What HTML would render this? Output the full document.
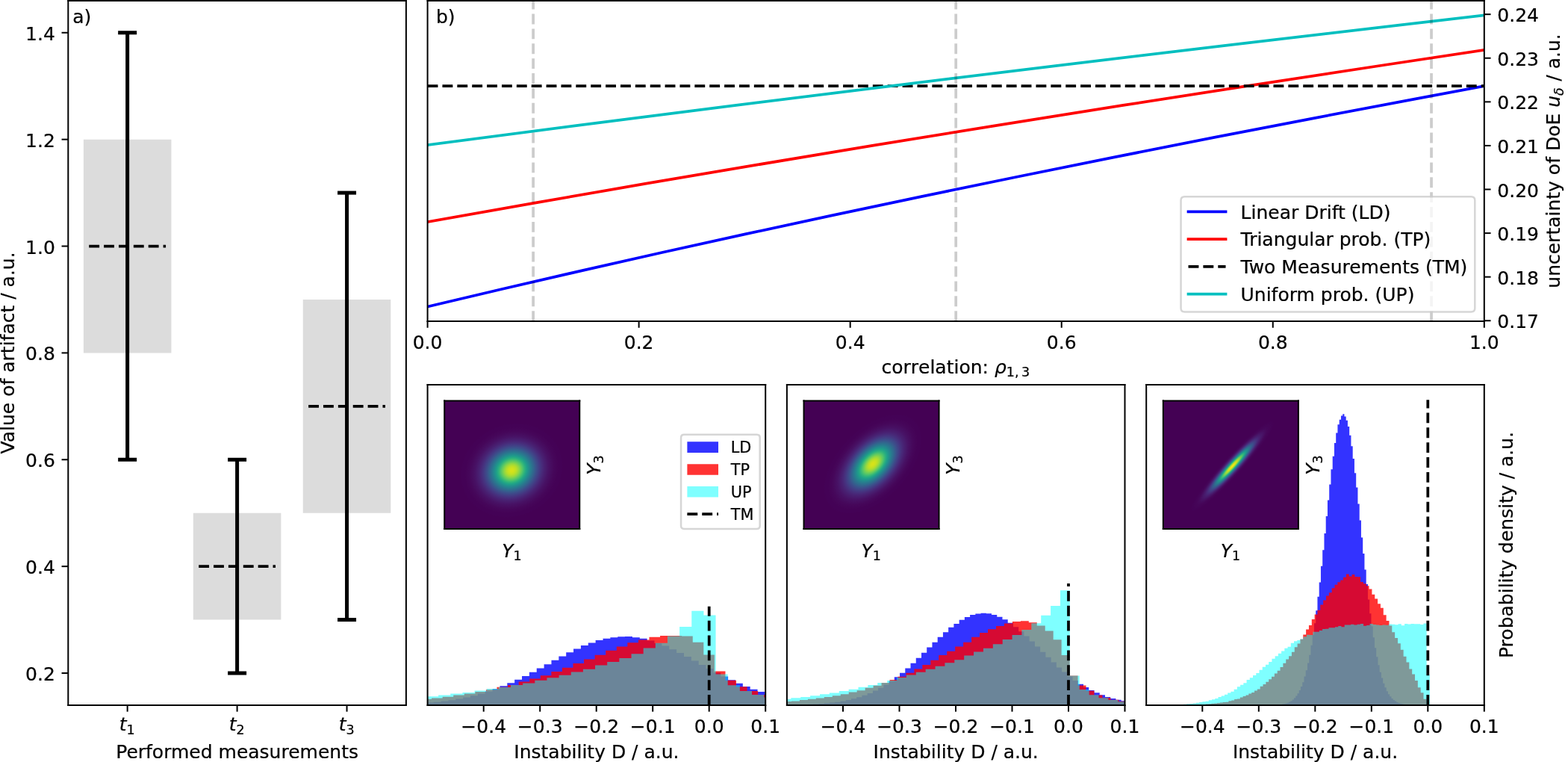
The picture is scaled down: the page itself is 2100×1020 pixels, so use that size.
<!DOCTYPE html>
<html lang="en">
<head>
<meta charset="utf-8">
<title>Drift models: DoE uncertainty versus correlation</title>
<style>html,body{margin:0;padding:0;background:#fff}body{width:2100px;height:1020px;overflow:hidden}svg{display:block}svg text{font-family:"DejaVu Sans","Liberation Sans",sans-serif;stroke:#000;stroke-width:0.09px;stroke-linejoin:round}</style>
</head>
<body>
<svg width="2100" height="1020" viewBox="0 0 840 408">
<defs>
<style type="text/css">*{stroke-linejoin: round; stroke-linecap: butt}</style>
</defs>
<defs><radialGradient id="hg0" gradientUnits="userSpaceOnUse" cx="0" cy="0" r="4.000" fx="0" fy="0" gradientTransform="matrix(8.080 -0.744 0.000 -7.402 274.120 251.840)"><stop offset="0.000" stop-color="#d8e219"/><stop offset="0.025" stop-color="#d5e21a"/><stop offset="0.050" stop-color="#cae11f"/><stop offset="0.075" stop-color="#bddf26"/><stop offset="0.100" stop-color="#a8db34"/><stop offset="0.125" stop-color="#8ed645"/><stop offset="0.150" stop-color="#70cf57"/><stop offset="0.175" stop-color="#56c667"/><stop offset="0.200" stop-color="#3bbb75"/><stop offset="0.225" stop-color="#28ae80"/><stop offset="0.250" stop-color="#1fa188"/><stop offset="0.275" stop-color="#20938c"/><stop offset="0.300" stop-color="#24868e"/><stop offset="0.325" stop-color="#29798e"/><stop offset="0.350" stop-color="#2e6d8e"/><stop offset="0.375" stop-color="#34618d"/><stop offset="0.400" stop-color="#3a548c"/><stop offset="0.425" stop-color="#3e4989"/><stop offset="0.450" stop-color="#423f85"/><stop offset="0.475" stop-color="#453581"/><stop offset="0.500" stop-color="#472d7b"/><stop offset="0.525" stop-color="#482576"/><stop offset="0.550" stop-color="#481f70"/><stop offset="0.575" stop-color="#481a6c"/><stop offset="0.600" stop-color="#481467"/><stop offset="0.625" stop-color="#471063"/><stop offset="0.650" stop-color="#470d60"/><stop offset="0.675" stop-color="#460a5d"/><stop offset="0.700" stop-color="#46075a"/><stop offset="0.725" stop-color="#450559"/><stop offset="0.750" stop-color="#450457"/><stop offset="0.775" stop-color="#440256"/><stop offset="0.800" stop-color="#440256"/><stop offset="0.825" stop-color="#440256"/><stop offset="0.850" stop-color="#440154"/><stop offset="0.875" stop-color="#440154"/><stop offset="0.900" stop-color="#440154"/><stop offset="0.925" stop-color="#440154"/><stop offset="0.950" stop-color="#440154"/><stop offset="0.975" stop-color="#440154"/><stop offset="1.000" stop-color="#440154"/></radialGradient><radialGradient id="hg1" gradientUnits="userSpaceOnUse" cx="0" cy="0" r="4.000" fx="0" fy="0" gradientTransform="matrix(7.720 -3.920 0.000 -6.789 467.600 248.400)"><stop offset="0.000" stop-color="#d8e219"/><stop offset="0.025" stop-color="#d5e21a"/><stop offset="0.050" stop-color="#cae11f"/><stop offset="0.075" stop-color="#bddf26"/><stop offset="0.100" stop-color="#a8db34"/><stop offset="0.125" stop-color="#8ed645"/><stop offset="0.150" stop-color="#70cf57"/><stop offset="0.175" stop-color="#56c667"/><stop offset="0.200" stop-color="#3bbb75"/><stop offset="0.225" stop-color="#28ae80"/><stop offset="0.250" stop-color="#1fa188"/><stop offset="0.275" stop-color="#20938c"/><stop offset="0.300" stop-color="#24868e"/><stop offset="0.325" stop-color="#29798e"/><stop offset="0.350" stop-color="#2e6d8e"/><stop offset="0.375" stop-color="#34618d"/><stop offset="0.400" stop-color="#3a548c"/><stop offset="0.425" stop-color="#3e4989"/><stop offset="0.450" stop-color="#423f85"/><stop offset="0.475" stop-color="#453581"/><stop offset="0.500" stop-color="#472d7b"/><stop offset="0.525" stop-color="#482576"/><stop offset="0.550" stop-color="#481f70"/><stop offset="0.575" stop-color="#481a6c"/><stop offset="0.600" stop-color="#481467"/><stop offset="0.625" stop-color="#471063"/><stop offset="0.650" stop-color="#470d60"/><stop offset="0.675" stop-color="#460a5d"/><stop offset="0.700" stop-color="#46075a"/><stop offset="0.725" stop-color="#450559"/><stop offset="0.750" stop-color="#450457"/><stop offset="0.775" stop-color="#440256"/><stop offset="0.800" stop-color="#440256"/><stop offset="0.825" stop-color="#440256"/><stop offset="0.850" stop-color="#440154"/><stop offset="0.875" stop-color="#440154"/><stop offset="0.900" stop-color="#440154"/><stop offset="0.925" stop-color="#440154"/><stop offset="0.950" stop-color="#440154"/><stop offset="0.975" stop-color="#440154"/><stop offset="1.000" stop-color="#440154"/></radialGradient><radialGradient id="hg2" gradientUnits="userSpaceOnUse" cx="0" cy="0" r="4.000" fx="0" fy="0" gradientTransform="matrix(6.520 -6.785 0.000 -2.157 660.240 249.560)"><stop offset="0.000" stop-color="#f1e51d"/><stop offset="0.025" stop-color="#efe51c"/><stop offset="0.050" stop-color="#e5e419"/><stop offset="0.075" stop-color="#d5e21a"/><stop offset="0.100" stop-color="#c0df25"/><stop offset="0.125" stop-color="#a5db36"/><stop offset="0.150" stop-color="#86d549"/><stop offset="0.175" stop-color="#67cc5c"/><stop offset="0.200" stop-color="#4ac16d"/><stop offset="0.225" stop-color="#31b57b"/><stop offset="0.250" stop-color="#22a785"/><stop offset="0.275" stop-color="#1f988b"/><stop offset="0.300" stop-color="#228b8d"/><stop offset="0.325" stop-color="#287d8e"/><stop offset="0.350" stop-color="#2d718e"/><stop offset="0.375" stop-color="#32648e"/><stop offset="0.400" stop-color="#38588c"/><stop offset="0.425" stop-color="#3d4d8a"/><stop offset="0.450" stop-color="#424186"/><stop offset="0.475" stop-color="#453882"/><stop offset="0.500" stop-color="#472e7c"/><stop offset="0.525" stop-color="#482677"/><stop offset="0.550" stop-color="#482071"/><stop offset="0.575" stop-color="#481a6c"/><stop offset="0.600" stop-color="#481668"/><stop offset="0.625" stop-color="#471164"/><stop offset="0.650" stop-color="#470d60"/><stop offset="0.675" stop-color="#460a5d"/><stop offset="0.700" stop-color="#46075a"/><stop offset="0.725" stop-color="#450559"/><stop offset="0.750" stop-color="#450457"/><stop offset="0.775" stop-color="#450457"/><stop offset="0.800" stop-color="#440256"/><stop offset="0.825" stop-color="#440256"/><stop offset="0.850" stop-color="#440154"/><stop offset="0.875" stop-color="#440154"/><stop offset="0.900" stop-color="#440154"/><stop offset="0.925" stop-color="#440154"/><stop offset="0.950" stop-color="#440154"/><stop offset="0.975" stop-color="#440154"/><stop offset="1.000" stop-color="#440154"/></radialGradient></defs><g id="figure_1">
<g id="patch_1">
<path d="M 0 408 L 840 408 L 840 0 L 0 0 z
" style="fill: #ffffff"/>
</g>
<g id="axes_1">
<g id="patch_2">
<path d="M 36.52 377.56 L 217.56 377.56 L 217.56 0.36 L 36.52 0.36 z
" style="fill: #ffffff"/>
</g>
<g id="patch_3">
<path d="M 44.749 188.96 L 91.772 188.96 L 91.772 74.656 L 44.749 74.656 z
" clip-path="url(#p8b01ac9c0a)" style="fill: #dcdcdc"/>
</g>
<g id="patch_4">
<path d="M 103.528 331.838 L 150.551 331.838 L 150.551 274.687 L 103.528 274.687 z
" clip-path="url(#p8b01ac9c0a)" style="fill: #dcdcdc"/>
</g>
<g id="patch_5">
<path d="M 162.307 274.687 L 209.330 274.687 L 209.330 160.384 L 162.307 160.384 z
" clip-path="url(#p8b01ac9c0a)" style="fill: #dcdcdc"/>
</g>
<g id="matplotlib.axis_1">
<g id="xtick_1">
<g id="line2d_1">
<defs>
<path id="m7aefe9833c" d="M 0 0 L 0 3.5 
" style="stroke: #000000; stroke-width: 0.8"/>
</defs>
<g>
<use href="#m7aefe9833c" x="68.260" y="377.56" style="stroke: #000000; stroke-width: 0.8"/>
</g>
</g>
<g id="text_1">
<g transform="translate(63.910 392.158)">
<text style="white-space: pre"><tspan x="0.000" y="-0.784" style="font-style: oblique; font-size: 10px">t</tspan><tspan x="3.921" y="0.856" style="font-size: 7px">1</tspan></text>
</g>
</g>
</g>
<g id="xtick_2">
<g id="line2d_2">
<g>
<use href="#m7aefe9833c" x="127.04" y="377.56" style="stroke: #000000; stroke-width: 0.8"/>
</g>
</g>
<g id="text_2">
<g transform="translate(122.69 392.158)">
<text style="white-space: pre"><tspan x="0.000" y="-0.784" style="font-style: oblique; font-size: 10px">t</tspan><tspan x="3.921" y="0.856" style="font-size: 7px">2</tspan></text>
</g>
</g>
</g>
<g id="xtick_3">
<g id="line2d_3">
<g>
<use href="#m7aefe9833c" x="185.819" y="377.56" style="stroke: #000000; stroke-width: 0.8"/>
</g>
</g>
<g id="text_3">
<g transform="translate(181.469 392.158)">
<text style="white-space: pre"><tspan x="0.000" y="-0.784" style="font-style: oblique; font-size: 10px">t</tspan><tspan x="3.921" y="0.856" style="font-size: 7px">3</tspan></text>
</g>
</g>
</g>
<g id="text_4">
<text style="font-size: 10px; text-anchor: middle" x="127.04" y="406.037" transform="rotate(-0 127.04 405.836)">Performed measurements</text>
</g>
</g>
<g id="matplotlib.axis_2">
<g id="ytick_1">
<g id="line2d_4">
<defs>
<path id="ma451ee181b" d="M 0 0 L -3.5 0 
" style="stroke: #000000; stroke-width: 0.8"/>
</defs>
<g>
<use href="#ma451ee181b" x="36.52" y="360.414" style="stroke: #000000; stroke-width: 0.8"/>
</g>
</g>
<g id="text_5">
<text style="font-size: 10px; text-anchor: end" x="29.52" y="364.414" transform="rotate(-0 29.52 364.213)">0.2</text>
</g>
</g>
<g id="ytick_2">
<g id="line2d_5">
<g>
<use href="#ma451ee181b" x="36.52" y="303.263" style="stroke: #000000; stroke-width: 0.8"/>
</g>
</g>
<g id="text_6">
<text style="font-size: 10px; text-anchor: end" x="29.52" y="307.262" transform="rotate(-0 29.52 307.062)">0.4</text>
</g>
</g>
<g id="ytick_3">
<g id="line2d_6">
<g>
<use href="#ma451ee181b" x="36.52" y="246.111" style="stroke: #000000; stroke-width: 0.8"/>
</g>
</g>
<g id="text_7">
<text style="font-size: 10px; text-anchor: end" x="29.52" y="250.111" transform="rotate(-0 29.52 249.910)">0.6</text>
</g>
</g>
<g id="ytick_4">
<g id="line2d_7">
<g>
<use href="#ma451ee181b" x="36.52" y="188.96" style="stroke: #000000; stroke-width: 0.8"/>
</g>
</g>
<g id="text_8">
<text style="font-size: 10px; text-anchor: end" x="29.52" y="192.959" transform="rotate(-0 29.52 192.759)">0.8</text>
</g>
</g>
<g id="ytick_5">
<g id="line2d_8">
<g>
<use href="#ma451ee181b" x="36.52" y="131.808" style="stroke: #000000; stroke-width: 0.8"/>
</g>
</g>
<g id="text_9">
<text style="font-size: 10px; text-anchor: end" x="29.52" y="135.808" transform="rotate(-0 29.52 135.607)">1.0</text>
</g>
</g>
<g id="ytick_6">
<g id="line2d_9">
<g>
<use href="#ma451ee181b" x="36.52" y="74.656" style="stroke: #000000; stroke-width: 0.8"/>
</g>
</g>
<g id="text_10">
<text style="font-size: 10px; text-anchor: end" x="29.52" y="78.656" transform="rotate(-0 29.52 78.456)">1.2</text>
</g>
</g>
<g id="ytick_7">
<g id="line2d_10">
<g>
<use href="#ma451ee181b" x="36.52" y="17.505" style="stroke: #000000; stroke-width: 0.8"/>
</g>
</g>
<g id="text_11">
<text style="font-size: 10px; text-anchor: end" x="29.52" y="21.505" transform="rotate(-0 29.52 21.304)">1.4</text>
</g>
</g>
<g id="text_12">
<text style="font-size: 10px; text-anchor: middle" x="7.537" y="189.160" transform="rotate(-90 7.537 188.96)">Value of artifact / a.u.</text>
</g>
</g>
<g id="line2d_11">
<path d="M 47.688 131.808 L 88.833 131.808 
" clip-path="url(#p8b01ac9c0a)" style="fill: none; stroke-dasharray: 5.55,2.4; stroke-dashoffset: 0; stroke: #000000; stroke-width: 1.5"/>
</g>
<g id="line2d_12">
<path d="M 106.467 303.263 L 147.612 303.263 
" clip-path="url(#p8b01ac9c0a)" style="fill: none; stroke-dasharray: 5.55,2.4; stroke-dashoffset: 0; stroke: #000000; stroke-width: 1.5"/>
</g>
<g id="line2d_13">
<path d="M 165.246 217.535 L 206.391 217.535 
" clip-path="url(#p8b01ac9c0a)" style="fill: none; stroke-dasharray: 5.55,2.4; stroke-dashoffset: 0; stroke: #000000; stroke-width: 1.5"/>
</g>
<g id="patch_6">
<path d="M 36.52 377.56 L 36.52 0.36 
" style="fill: none; stroke: #000000; stroke-width: 0.8; stroke-linejoin: miter; stroke-linecap: square"/>
</g>
<g id="patch_7">
<path d="M 217.56 377.56 L 217.56 0.36 
" style="fill: none; stroke: #000000; stroke-width: 0.8; stroke-linejoin: miter; stroke-linecap: square"/>
</g>
<g id="patch_8">
<path d="M 36.52 377.56 L 217.56 377.56 
" style="fill: none; stroke: #000000; stroke-width: 0.8; stroke-linejoin: miter; stroke-linecap: square"/>
</g>
<g id="patch_9">
<path d="M 36.52 0.36 L 217.56 0.36 
" style="fill: none; stroke: #000000; stroke-width: 0.8; stroke-linejoin: miter; stroke-linecap: square"/>
</g>
<g id="LineCollection_1">
<path d="M 68.260 246.111 L 68.260 17.505 
" clip-path="url(#p8b01ac9c0a)" style="fill: none; stroke: #000000; stroke-width: 2"/>
<path d="M 127.04 360.414 L 127.04 246.111 
" clip-path="url(#p8b01ac9c0a)" style="fill: none; stroke: #000000; stroke-width: 2"/>
<path d="M 185.819 331.838 L 185.819 103.232 
" clip-path="url(#p8b01ac9c0a)" style="fill: none; stroke: #000000; stroke-width: 2"/>
</g>
<g id="line2d_14">
<defs>
<path id="m417dc5f6ab" d="M 5 0 L -5 -0 
" style="stroke: #000000; stroke-width: 2"/>
</defs>
<g clip-path="url(#p8b01ac9c0a)">
<use href="#m417dc5f6ab" x="68.260" y="246.111" style="fill: #1f77b4; stroke: #000000; stroke-width: 2"/>
<use href="#m417dc5f6ab" x="127.04" y="360.414" style="fill: #1f77b4; stroke: #000000; stroke-width: 2"/>
<use href="#m417dc5f6ab" x="185.819" y="331.838" style="fill: #1f77b4; stroke: #000000; stroke-width: 2"/>
</g>
</g>
<g id="line2d_15">
<g clip-path="url(#p8b01ac9c0a)">
<use href="#m417dc5f6ab" x="68.260" y="17.505" style="fill: #1f77b4; stroke: #000000; stroke-width: 2"/>
<use href="#m417dc5f6ab" x="127.04" y="246.111" style="fill: #1f77b4; stroke: #000000; stroke-width: 2"/>
<use href="#m417dc5f6ab" x="185.819" y="103.232" style="fill: #1f77b4; stroke: #000000; stroke-width: 2"/>
</g>
</g>
<g id="text_13">
<text style="font-size: 10px; text-anchor: start" x="38.873" y="12.319" transform="rotate(-0 38.873 12.118)">a)</text>
</g>
</g>
<g id="axes_2">
<g id="patch_10">
<path d="M 229.04 172 L 795.12 172 L 795.12 0.36 L 229.04 0.36 z
" style="fill: #ffffff"/>
</g>
<g id="matplotlib.axis_3">
<g id="xtick_4">
<g id="line2d_16">
<g>
<use href="#m7aefe9833c" x="229.04" y="172" style="stroke: #000000; stroke-width: 0.8"/>
</g>
</g>
<g id="text_14">
<text style="font-size: 10px; text-anchor: middle" x="229.04" y="186.798" transform="rotate(-0 229.04 186.598)">0.0</text>
</g>
</g>
<g id="xtick_5">
<g id="line2d_17">
<g>
<use href="#m7aefe9833c" x="342.256" y="172" style="stroke: #000000; stroke-width: 0.8"/>
</g>
</g>
<g id="text_15">
<text style="font-size: 10px; text-anchor: middle" x="342.256" y="186.798" transform="rotate(-0 342.256 186.598)">0.2</text>
</g>
</g>
<g id="xtick_6">
<g id="line2d_18">
<g>
<use href="#m7aefe9833c" x="455.472" y="172" style="stroke: #000000; stroke-width: 0.8"/>
</g>
</g>
<g id="text_16">
<text style="font-size: 10px; text-anchor: middle" x="455.472" y="186.798" transform="rotate(-0 455.472 186.598)">0.4</text>
</g>
</g>
<g id="xtick_7">
<g id="line2d_19">
<g>
<use href="#m7aefe9833c" x="568.688" y="172" style="stroke: #000000; stroke-width: 0.8"/>
</g>
</g>
<g id="text_17">
<text style="font-size: 10px; text-anchor: middle" x="568.688" y="186.798" transform="rotate(-0 568.688 186.598)">0.6</text>
</g>
</g>
<g id="xtick_8">
<g id="line2d_20">
<g>
<use href="#m7aefe9833c" x="681.904" y="172" style="stroke: #000000; stroke-width: 0.8"/>
</g>
</g>
<g id="text_18">
<text style="font-size: 10px; text-anchor: middle" x="681.904" y="186.798" transform="rotate(-0 681.904 186.598)">0.8</text>
</g>
</g>
<g id="xtick_9">
<g id="line2d_21">
<g>
<use href="#m7aefe9833c" x="795.12" y="172" style="stroke: #000000; stroke-width: 0.8"/>
</g>
</g>
<g id="text_19">
<text style="font-size: 10px; text-anchor: middle" x="795.12" y="186.798" transform="rotate(-0 795.12 186.598)">1.0</text>
</g>
</g>
<g id="text_20">
<g transform="translate(472.18 200.278)">
<text style="white-space: pre"><tspan x="0.000 5.498 11.616 15.728 19.839 25.991 28.770 34.897 38.818 41.597 47.715 54.053 57.422" y="-0.206" style="font-size: 10px">correlation: </tspan><tspan x="60.601" y="-0.206" style="font-style: oblique; font-size: 10px">ρ</tspan><tspan x="66.948 71.402 74.991" y="1.434" style="font-size: 7px">1,3</tspan></text>
</g>
</g>
</g>
<g id="matplotlib.axis_4">
<g id="ytick_8">
<g id="line2d_22">
<defs>
<path id="m276ebad6c7" d="M 0 0 L 3.5 0 
" style="stroke: #000000; stroke-width: 0.8"/>
</defs>
<g>
<use href="#m276ebad6c7" x="795.12" y="171.708" style="stroke: #000000; stroke-width: 0.8"/>
</g>
</g>
<g id="text_21">
<text style="font-size: 10px; text-anchor: start" x="802.12" y="175.708" transform="rotate(-0 802.12 175.508)">0.17</text>
</g>
</g>
<g id="ytick_9">
<g id="line2d_23">
<g>
<use href="#m276ebad6c7" x="795.12" y="148.275" style="stroke: #000000; stroke-width: 0.8"/>
</g>
</g>
<g id="text_22">
<text style="font-size: 10px; text-anchor: start" x="802.12" y="152.274" transform="rotate(-0 802.12 152.074)">0.18</text>
</g>
</g>
<g id="ytick_10">
<g id="line2d_24">
<g>
<use href="#m276ebad6c7" x="795.12" y="124.841" style="stroke: #000000; stroke-width: 0.8"/>
</g>
</g>
<g id="text_23">
<text style="font-size: 10px; text-anchor: start" x="802.12" y="128.841" transform="rotate(-0 802.12 128.640)">0.19</text>
</g>
</g>
<g id="ytick_11">
<g id="line2d_25">
<g>
<use href="#m276ebad6c7" x="795.12" y="101.407" style="stroke: #000000; stroke-width: 0.8"/>
</g>
</g>
<g id="text_24">
<text style="font-size: 10px; text-anchor: start" x="802.12" y="105.407" transform="rotate(-0 802.12 105.207)">0.20</text>
</g>
</g>
<g id="ytick_12">
<g id="line2d_26">
<g>
<use href="#m276ebad6c7" x="795.12" y="77.974" style="stroke: #000000; stroke-width: 0.8"/>
</g>
</g>
<g id="text_25">
<text style="font-size: 10px; text-anchor: start" x="802.12" y="81.974" transform="rotate(-0 802.12 81.773)">0.21</text>
</g>
</g>
<g id="ytick_13">
<g id="line2d_27">
<g>
<use href="#m276ebad6c7" x="795.12" y="54.540" style="stroke: #000000; stroke-width: 0.8"/>
</g>
</g>
<g id="text_26">
<text style="font-size: 10px; text-anchor: start" x="802.12" y="58.540" transform="rotate(-0 802.12 58.339)">0.22</text>
</g>
</g>
<g id="ytick_14">
<g id="line2d_28">
<g>
<use href="#m276ebad6c7" x="795.12" y="31.107" style="stroke: #000000; stroke-width: 0.8"/>
</g>
</g>
<g id="text_27">
<text style="font-size: 10px; text-anchor: start" x="802.12" y="35.106" transform="rotate(-0 802.12 34.906)">0.23</text>
</g>
</g>
<g id="ytick_15">
<g id="line2d_29">
<g>
<use href="#m276ebad6c7" x="795.12" y="7.673" style="stroke: #000000; stroke-width: 0.8"/>
</g>
</g>
<g id="text_28">
<text style="font-size: 10px; text-anchor: start" x="802.12" y="11.673" transform="rotate(-0 802.12 11.472)">0.24</text>
</g>
</g>
<g id="text_29">
<g transform="translate(835.985 154.28) rotate(-90)">
<text style="white-space: pre"><tspan x="0.000 6.338 12.676 18.174 24.326 28.438 32.358 38.486 41.265 47.603 51.523 57.441 60.620 66.738 70.259 73.438 81.138 87.256 93.574" y="-0.206" style="font-size: 10px">uncertainty of DoE </tspan><tspan x="96.753" y="-0.206" style="font-style: oblique; font-size: 10px">u</tspan><tspan x="103.091" y="1.434" style="font-style: oblique; font-size: 7px">δ</tspan><tspan x="107.647 110.826 114.195 117.374 123.501 126.680 133.018" y="-0.206" style="font-size: 10px"> / a.u.</tspan></text>
</g>
</g>
</g>
<g id="line2d_30">
<path d="M 229.04 164.198 L 268.864 154.789 L 311.534 144.938 L 354.203 135.311 L 399.717 125.272 L 445.231 115.454 L 493.589 105.250 L 544.793 94.685 L 595.996 84.349 L 650.044 73.672 L 704.092 63.220 L 760.984 52.446 L 795.12 46.088 L 795.12 46.088 
" clip-path="url(#p8d22a41677)" style="fill: none; stroke: #0000ff; stroke-width: 1.5; stroke-linecap: square"/>
</g>
<g id="line2d_31">
<path d="M 229.04 118.818 L 285.932 108.739 L 345.669 98.387 L 405.406 88.258 L 467.988 77.871 L 533.414 67.240 L 601.685 56.382 L 669.956 45.748 L 741.072 34.896 L 795.12 26.794 L 795.12 26.794 
" clip-path="url(#p8d22a41677)" style="fill: none; stroke: #ff0000; stroke-width: 1.5; stroke-linecap: square"/>
</g>
<g id="line2d_32">
<path d="M 229.04 46.088 L 795.12 46.088 L 795.12 46.088 
" clip-path="url(#p8d22a41677)" style="fill: none; stroke-dasharray: 5.55,2.4; stroke-dashoffset: 0; stroke: #000000; stroke-width: 1.5"/>
</g>
<g id="line2d_33">
<path d="M 229.04 77.602 L 308.689 67.251 L 391.183 56.751 L 476.522 46.110 L 564.705 35.337 L 655.733 24.439 L 749.606 13.424 L 795.12 8.161 L 795.12 8.161 
" clip-path="url(#p8d22a41677)" style="fill: none; stroke: #00bfbf; stroke-width: 1.5; stroke-linecap: square"/>
</g>
<g id="line2d_34">
<path d="M 285.648 172 L 285.648 0.36 
" clip-path="url(#p8d22a41677)" style="fill: none; stroke-dasharray: 5.55,2.4; stroke-dashoffset: 0; stroke: #000000; stroke-opacity: 0.2; stroke-width: 1.5"/>
</g>
<g id="line2d_35">
<path d="M 512.08 172 L 512.08 0.36 
" clip-path="url(#p8d22a41677)" style="fill: none; stroke-dasharray: 5.55,2.4; stroke-dashoffset: 0; stroke: #000000; stroke-opacity: 0.2; stroke-width: 1.5"/>
</g>
<g id="line2d_36">
<path d="M 766.816 172 L 766.816 0.36 
" clip-path="url(#p8d22a41677)" style="fill: none; stroke-dasharray: 5.55,2.4; stroke-dashoffset: 0; stroke: #000000; stroke-opacity: 0.2; stroke-width: 1.5"/>
</g>
<g id="patch_11">
<path d="M 229.04 172 L 229.04 0.36 
" style="fill: none; stroke: #000000; stroke-width: 0.8; stroke-linejoin: miter; stroke-linecap: square"/>
</g>
<g id="patch_12">
<path d="M 795.12 172 L 795.12 0.36 
" style="fill: none; stroke: #000000; stroke-width: 0.8; stroke-linejoin: miter; stroke-linecap: square"/>
</g>
<g id="patch_13">
<path d="M 229.04 172 L 795.12 172 
" style="fill: none; stroke: #000000; stroke-width: 0.8; stroke-linejoin: miter; stroke-linecap: square"/>
</g>
<g id="patch_14">
<path d="M 229.04 0.36 L 795.12 0.36 
" style="fill: none; stroke: #000000; stroke-width: 0.8; stroke-linejoin: miter; stroke-linecap: square"/>
</g>
<g id="text_30">
<text style="font-size: 10px; text-anchor: start" x="233.568" y="12.506" transform="rotate(-0 233.568 12.306)">b)</text>
</g>
<g id="legend_1">
<g id="patch_15">
<path d="M 634.613 167 L 788.12 167 Q 790.12 167 790.12 165 L 790.12 107.287 Q 790.12 105.287 788.12 105.287 L 634.613 105.287 Q 632.613 105.287 632.613 107.287 L 632.613 165 Q 632.613 167 634.613 167 z
" style="fill: #ffffff; opacity: 0.8; stroke: #cccccc; stroke-linejoin: miter"/>
</g>
<g id="line2d_37">
<path d="M 636.613 113.385 L 646.613 113.385 L 656.613 113.385 
" style="fill: none; stroke: #0000ff; stroke-width: 1.5; stroke-linecap: square"/>
</g>
<g id="text_31">
<text style="font-size: 10px; text-anchor: start" x="664.613" y="117.086" transform="rotate(-0 664.613 116.885)">Linear Drift (LD)</text>
</g>
<g id="line2d_38">
<path d="M 636.613 128.064 L 646.613 128.064 L 656.613 128.064 
" style="fill: none; stroke: #ff0000; stroke-width: 1.5; stroke-linecap: square"/>
</g>
<g id="text_32">
<text style="font-size: 10px; text-anchor: start" x="664.613" y="131.764" transform="rotate(-0 664.613 131.564)">Triangular prob. (TP)</text>
</g>
<g id="line2d_39">
<path d="M 636.613 142.742 L 646.613 142.742 L 656.613 142.742 
" style="fill: none; stroke-dasharray: 5.55,2.4; stroke-dashoffset: 0; stroke: #000000; stroke-width: 1.5"/>
</g>
<g id="text_33">
<text style="font-size: 10px; text-anchor: start" x="664.613" y="146.442" transform="rotate(-0 664.613 146.242)">Two Measurements (TM)</text>
</g>
<g id="line2d_40">
<path d="M 636.613 157.420 L 646.613 157.420 L 656.613 157.420 
" style="fill: none; stroke: #00bfbf; stroke-width: 1.5; stroke-linecap: square"/>
</g>
<g id="text_34">
<text style="font-size: 10px; text-anchor: start" x="664.613" y="161.120" transform="rotate(-0 664.613 160.920)">Uniform prob. (UP)</text>
</g>
</g>
</g>
<g id="axes_3">
<g id="patch_16">
<path d="M 229.04 377.56 L 410.08 377.56 L 410.08 206 L 229.04 206 z
" style="fill: #ffffff"/>
</g>
<g id="patch_17">
<path d="M 181.016 377.56 L 181.016 377.526 L 184.96 377.526 L 184.96 377.511 L 188.904 377.511 L 188.904 377.491 L 192.848 377.491 L 192.848 377.463 L 196.792 377.463 L 196.792 377.426 L 200.736 377.426 L 200.736 377.375 L 204.68 377.375 L 204.68 377.311 L 208.624 377.311 L 208.624 377.225 L 212.568 377.225 L 212.568 377.105 L 216.512 377.105 L 216.512 376.944 L 220.456 376.944 L 220.456 376.751 L 224.4 376.751 L 224.4 376.531 L 228.344 376.531 L 228.344 376.216 L 232.288 376.216 L 232.288 375.850 L 236.232 375.850 L 236.232 375.411 L 240.176 375.411 L 240.176 374.851 L 244.12 374.851 L 244.12 374.155 L 248.064 374.155 L 248.064 373.377 L 252.008 373.377 L 252.008 372.488 L 255.952 372.488 L 255.952 371.402 L 259.896 371.402 L 259.896 370.236 L 263.84 370.236 L 263.84 368.858 L 267.784 368.858 L 267.784 367.341 L 271.728 367.341 L 271.728 365.693 L 275.672 365.693 L 275.672 363.876 L 279.616 363.876 L 279.616 361.959 L 283.56 361.959 L 283.56 359.916 L 287.504 359.916 L 287.504 357.796 L 291.448 357.796 L 291.448 355.672 L 295.392 355.672 L 295.392 353.546 L 299.336 353.546 L 299.336 351.357 L 303.28 351.357 L 303.28 349.296 L 307.224 349.296 L 307.224 347.436 L 311.168 347.436 L 311.168 345.632 L 315.112 345.632 L 315.112 344.168 L 319.056 344.168 L 319.056 342.823 L 323 342.823 L 323 341.881 L 326.944 341.881 L 326.944 341.260 L 330.888 341.260 L 330.888 340.866 L 334.832 340.866 L 334.832 340.807 L 338.776 340.807 L 338.776 341.334 L 342.72 341.334 L 342.72 341.923 L 346.664 341.923 L 346.664 343.000 L 350.608 343.000 L 350.608 344.354 L 354.552 344.354 L 354.552 345.805 L 358.496 345.805 L 358.496 347.683 L 362.44 347.683 L 362.44 349.636 L 366.384 349.636 L 366.384 351.638 L 370.328 351.638 L 370.328 353.757 L 374.272 353.757 L 374.272 355.996 L 378.216 355.996 L 378.216 358.048 L 382.16 358.048 L 382.16 360.198 L 386.104 360.198 L 386.104 362.197 L 390.048 362.197 L 390.048 364.120 L 393.992 364.120 L 393.992 365.914 L 397.936 365.914 L 397.936 367.562 L 401.88 367.562 L 401.88 369.058 L 405.824 369.058 L 405.824 370.397 L 409.768 370.397 L 409.768 371.587 L 413.712 371.587 L 413.712 372.615 L 417.656 372.615 L 417.656 373.523 L 421.6 373.523 L 421.6 374.246 L 425.544 374.246 L 425.544 374.914 L 429.488 374.914 L 429.488 375.431 L 433.432 375.431 L 433.432 375.914 L 437.376 375.914 L 437.376 376.260 L 441.32 376.260 L 441.32 376.544 L 445.264 376.544 L 445.264 376.802 L 449.208 376.802 L 449.208 376.976 L 453.152 376.976 L 453.152 377.112 L 457.096 377.112 L 457.096 377.238 L 461.04 377.238 L 461.04 377.317 L 464.984 377.317 L 464.984 377.382 L 468.928 377.382 L 468.928 377.431 L 472.872 377.431 L 472.872 377.467 L 476.816 377.467 L 476.816 377.494 L 480.76 377.494 L 480.76 377.513 L 484.704 377.513 L 484.704 377.527 L 488.648 377.527 L 488.648 377.537 L 492.592 377.537 L 492.592 377.544 L 496.536 377.544 L 496.536 377.549 L 500.48 377.549 L 500.48 377.553 L 504.424 377.553 L 504.424 377.555 L 508.368 377.555 L 508.368 377.556 L 512.312 377.556 L 512.312 377.558 L 516.256 377.558 L 516.256 377.558 L 520.2 377.558 L 520.2 377.559 L 524.144 377.559 L 524.144 377.559 L 528.088 377.559 L 528.088 377.559 L 532.032 377.559 L 532.032 377.559 L 535.976 377.559 L 535.976 377.559 L 539.92 377.559 L 539.92 377.559 L 543.864 377.559 L 543.864 377.559 L 547.808 377.559 L 547.808 377.559 L 551.752 377.559 L 551.752 377.559 L 555.696 377.559 L 555.696 377.559 L 559.64 377.559 L 559.64 377.559 L 563.584 377.559 L 563.584 377.559 L 567.528 377.559 L 567.528 377.559 L 571.472 377.559 L 571.472 377.559 L 575.416 377.559 L 575.416 377.56 
" clip-path="url(#p05ba5c28d5)" style="fill: #0000ff; opacity: 0.8"/>
</g>
<g id="patch_18">
<path d="M -48.512 377.56 L -48.512 377.559 L -42.684 377.559 L -42.684 377.56 L -36.856 377.56 L -36.856 377.56 L -31.028 377.56 L -31.028 377.56 L -25.2 377.56 L -25.2 377.56 L -19.372 377.56 L -19.372 377.56 L -13.544 377.56 L -13.544 377.56 L -7.716 377.56 L -7.716 377.559 L -1.888 377.559 L -1.888 377.56 L 3.94 377.56 L 3.94 377.56 L 9.768 377.56 L 9.768 377.559 L 15.596 377.559 L 15.596 377.559 L 21.424 377.559 L 21.424 377.558 L 27.252 377.558 L 27.252 377.557 L 33.08 377.557 L 33.08 377.558 L 38.908 377.558 L 38.908 377.554 L 44.736 377.554 L 44.736 377.554 L 50.564 377.554 L 50.564 377.556 L 56.392 377.556 L 56.392 377.552 L 62.22 377.552 L 62.22 377.555 L 68.048 377.555 L 68.048 377.551 L 73.876 377.551 L 73.876 377.545 L 79.704 377.545 L 79.704 377.544 L 85.532 377.544 L 85.532 377.539 L 91.36 377.539 L 91.36 377.538 L 97.188 377.538 L 97.188 377.515 L 103.016 377.515 L 103.016 377.516 L 108.844 377.516 L 108.844 377.500 L 114.672 377.500 L 114.672 377.475 L 120.5 377.475 L 120.5 377.470 L 126.328 377.470 L 126.328 377.451 L 132.156 377.451 L 132.156 377.410 L 137.984 377.410 L 137.984 377.376 L 143.812 377.376 L 143.812 377.324 L 149.64 377.324 L 149.64 377.285 L 155.468 377.285 L 155.468 377.217 L 161.296 377.217 L 161.296 377.112 L 167.124 377.112 L 167.124 377.026 L 172.952 377.026 L 172.952 376.942 L 178.78 376.942 L 178.78 376.752 L 184.608 376.752 L 184.608 376.589 L 190.436 376.589 L 190.436 376.438 L 196.264 376.438 L 196.264 376.144 L 202.092 376.144 L 202.092 375.874 L 207.92 375.874 L 207.92 375.574 L 213.748 375.574 L 213.748 375.212 L 219.576 375.212 L 219.576 374.707 L 225.404 374.707 L 225.404 374.265 L 231.232 374.265 L 231.232 373.755 L 237.06 373.755 L 237.06 373.066 L 242.888 373.066 L 242.888 372.237 L 248.716 372.237 L 248.716 371.401 L 254.544 371.401 L 254.544 370.408 L 260.372 370.408 L 260.372 369.262 L 266.2 369.262 L 266.2 367.931 L 272.028 367.931 L 272.028 366.783 L 277.856 366.783 L 277.856 364.982 L 283.684 364.982 L 283.684 363.394 L 289.512 363.394 L 289.512 361.704 L 295.34 361.704 L 295.34 359.553 L 301.168 359.553 L 301.168 357.485 L 306.996 357.485 L 306.996 355.179 L 312.824 355.179 L 312.824 352.992 L 318.652 352.992 L 318.652 350.723 L 324.48 350.723 L 324.48 348.315 L 330.308 348.315 L 330.308 346.184 L 336.136 346.184 L 336.136 344.054 L 341.964 344.054 L 341.964 342.596 L 347.792 342.596 L 347.792 341.051 L 353.62 341.051 L 353.62 340.373 L 359.448 340.373 L 359.448 340.352 L 365.276 340.352 L 365.276 340.622 L 371.104 340.622 L 371.104 343.929 L 376.932 343.929 L 376.932 350.635 L 382.76 350.635 L 382.76 359.353 L 388.588 359.353 L 388.588 364.305 L 394.416 364.305 L 394.416 367.654 L 400.244 367.654 L 400.244 370.004 L 406.072 370.004 L 406.072 371.971 L 411.9 371.971 L 411.9 373.341 L 417.728 373.341 L 417.728 374.287 L 423.556 374.287 L 423.556 375.047 L 429.384 375.047 L 429.384 375.722 L 435.212 375.722 L 435.212 376.132 L 441.04 376.132 L 441.04 376.463 L 446.868 376.463 L 446.868 376.731 L 452.696 376.731 L 452.696 376.974 L 458.524 376.974 L 458.524 377.105 L 464.352 377.105 L 464.352 377.176 L 470.18 377.176 L 470.18 377.290 L 476.008 377.290 L 476.008 377.369 L 481.836 377.369 L 481.836 377.402 L 487.664 377.402 L 487.664 377.467 L 493.492 377.467 L 493.492 377.470 L 499.32 377.470 L 499.32 377.506 L 505.148 377.506 L 505.148 377.513 L 510.976 377.513 L 510.976 377.522 L 516.804 377.522 L 516.804 377.540 L 522.632 377.540 L 522.632 377.545 L 528.46 377.545 L 528.46 377.549 L 534.288 377.549 L 534.288 377.56 
" clip-path="url(#p05ba5c28d5)" style="fill: #ff0000; opacity: 0.8"/>
</g>
<g id="patch_19">
<path d="M -81.692 377.56 L -81.692 377.56 L -75.232 377.56 L -75.232 377.56 L -68.772 377.56 L -68.772 377.56 L -62.312 377.56 L -62.312 377.56 L -55.852 377.56 L -55.852 377.56 L -49.392 377.56 L -49.392 377.56 L -42.932 377.56 L -42.932 377.56 L -36.472 377.56 L -36.472 377.56 L -30.012 377.56 L -30.012 377.559 L -23.552 377.559 L -23.552 377.56 L -17.092 377.56 L -17.092 377.56 L -10.632 377.56 L -10.632 377.559 L -4.172 377.559 L -4.172 377.558 L 2.288 377.558 L 2.288 377.559 L 8.748 377.559 L 8.748 377.556 L 15.208 377.556 L 15.208 377.555 L 21.668 377.555 L 21.668 377.556 L 28.128 377.556 L 28.128 377.551 L 34.588 377.551 L 34.588 377.545 L 41.048 377.545 L 41.048 377.549 L 47.508 377.549 L 47.508 377.544 L 53.968 377.544 L 53.968 377.535 L 60.428 377.535 L 60.428 377.524 L 66.888 377.524 L 66.888 377.520 L 73.348 377.520 L 73.348 377.509 L 79.808 377.509 L 79.808 377.504 L 86.268 377.504 L 86.268 377.474 L 92.728 377.474 L 92.728 377.465 L 99.188 377.465 L 99.188 377.425 L 105.648 377.425 L 105.648 377.412 L 112.108 377.412 L 112.108 377.346 L 118.568 377.346 L 118.568 377.317 L 125.028 377.317 L 125.028 377.252 L 131.488 377.252 L 131.488 377.180 L 137.948 377.180 L 137.948 377.087 L 144.408 377.087 L 144.408 376.971 L 150.868 376.971 L 150.868 376.830 L 157.328 376.830 L 157.328 376.722 L 163.788 376.722 L 163.788 376.517 L 170.248 376.517 L 170.248 376.358 L 176.708 376.358 L 176.708 376.167 L 183.168 376.167 L 183.168 375.886 L 189.628 375.886 L 189.628 375.526 L 196.088 375.526 L 196.088 375.269 L 202.548 375.269 L 202.548 374.856 L 209.008 374.856 L 209.008 374.474 L 215.468 374.474 L 215.468 374.004 L 221.928 374.004 L 221.928 373.470 L 228.388 373.470 L 228.388 372.888 L 234.848 372.888 L 234.848 372.183 L 241.308 372.183 L 241.308 371.417 L 247.768 371.417 L 247.768 370.773 L 254.228 370.773 L 254.228 369.762 L 260.688 369.762 L 260.688 368.836 L 267.148 368.836 L 267.148 367.959 L 273.608 367.959 L 273.608 366.845 L 280.068 366.845 L 280.068 365.761 L 286.528 365.761 L 286.528 364.341 L 292.988 364.341 L 292.988 362.873 L 299.448 362.873 L 299.448 361.475 L 305.908 361.475 L 305.908 359.847 L 312.368 359.847 L 312.368 358.338 L 318.828 358.338 L 318.828 356.221 L 325.288 356.221 L 325.288 354.358 L 331.748 354.358 L 331.748 352.359 L 338.208 352.359 L 338.208 350.104 L 344.668 350.104 L 344.668 347.024 L 351.128 347.024 L 351.128 344.323 L 357.588 344.323 L 357.588 340.562 L 364.048 340.562 L 364.048 335.599 L 370.508 335.599 L 370.508 327.104 L 376.968 327.104 L 376.968 329.386 L 383.428 329.386 L 383.428 361.004 L 389.888 361.004 L 389.888 366.922 L 396.348 366.922 L 396.348 370.038 L 402.808 370.038 L 402.808 371.972 L 409.268 371.972 L 409.268 373.400 L 415.728 373.400 L 415.728 374.420 L 422.188 374.420 L 422.188 375.190 L 428.648 375.190 L 428.648 375.719 L 435.108 375.719 L 435.108 376.091 L 441.568 376.091 L 441.568 376.423 L 448.028 376.423 L 448.028 376.662 L 454.488 376.662 L 454.488 376.873 L 460.948 376.873 L 460.948 377.014 L 467.408 377.014 L 467.408 377.154 L 473.868 377.154 L 473.868 377.252 L 480.328 377.252 L 480.328 377.319 L 486.788 377.319 L 486.788 377.358 L 493.248 377.358 L 493.248 377.393 L 499.708 377.393 L 499.708 377.437 L 506.168 377.437 L 506.168 377.484 L 512.628 377.484 L 512.628 377.495 L 519.088 377.495 L 519.088 377.509 L 525.548 377.509 L 525.548 377.521 L 532.008 377.521 L 532.008 377.539 L 538.468 377.539 L 538.468 377.540 L 544.928 377.540 L 544.928 377.546 L 551.388 377.546 L 551.388 377.550 L 557.848 377.550 L 557.848 377.553 L 564.308 377.553 L 564.308 377.56 
" clip-path="url(#p05ba5c28d5)" style="fill: #00ffff; opacity: 0.5"/>
</g>
<g id="matplotlib.axis_5">
<g id="xtick_10">
<g id="line2d_41">
<g>
<use href="#m7aefe9833c" x="259.087" y="377.56" style="stroke: #000000; stroke-width: 0.8"/>
</g>
</g>
<g id="text_35">
<text style="font-size: 10px; text-anchor: middle" x="259.087" y="392.358" transform="rotate(-0 259.087 392.158)">−0.4</text>
</g>
</g>
<g id="xtick_11">
<g id="line2d_42">
<g>
<use href="#m7aefe9833c" x="289.286" y="377.56" style="stroke: #000000; stroke-width: 0.8"/>
</g>
</g>
<g id="text_36">
<text style="font-size: 10px; text-anchor: middle" x="289.286" y="392.358" transform="rotate(-0 289.286 392.158)">−0.3</text>
</g>
</g>
<g id="xtick_12">
<g id="line2d_43">
<g>
<use href="#m7aefe9833c" x="319.484" y="377.56" style="stroke: #000000; stroke-width: 0.8"/>
</g>
</g>
<g id="text_37">
<text style="font-size: 10px; text-anchor: middle" x="319.484" y="392.358" transform="rotate(-0 319.484 392.158)">−0.2</text>
</g>
</g>
<g id="xtick_13">
<g id="line2d_44">
<g>
<use href="#m7aefe9833c" x="349.683" y="377.56" style="stroke: #000000; stroke-width: 0.8"/>
</g>
</g>
<g id="text_38">
<text style="font-size: 10px; text-anchor: middle" x="349.683" y="392.358" transform="rotate(-0 349.683 392.158)">−0.1</text>
</g>
</g>
<g id="xtick_14">
<g id="line2d_45">
<g>
<use href="#m7aefe9833c" x="379.881" y="377.56" style="stroke: #000000; stroke-width: 0.8"/>
</g>
</g>
<g id="text_39">
<text style="font-size: 10px; text-anchor: middle" x="379.881" y="392.358" transform="rotate(-0 379.881 392.158)">0.0</text>
</g>
</g>
<g id="xtick_15">
<g id="line2d_46">
<g>
<use href="#m7aefe9833c" x="410.08" y="377.56" style="stroke: #000000; stroke-width: 0.8"/>
</g>
</g>
<g id="text_40">
<text style="font-size: 10px; text-anchor: middle" x="410.08" y="392.358" transform="rotate(-0 410.08 392.158)">0.1</text>
</g>
</g>
<g id="text_41">
<text style="font-size: 10px; text-anchor: middle" x="319.56" y="406.037" transform="rotate(-0 319.56 405.836)">Instability D / a.u.</text>
</g>
</g>
<g id="matplotlib.axis_6"/>
<g id="line2d_47">
<path d="M 379.881 377.56 L 379.881 324.734 
" clip-path="url(#p05ba5c28d5)" style="fill: none; stroke-dasharray: 5.55,2.4; stroke-dashoffset: 0; stroke: #000000; stroke-width: 1.5"/>
</g>
<g id="patch_20">
<path d="M 229.04 377.56 L 229.04 206 
" style="fill: none; stroke: #000000; stroke-width: 0.8; stroke-linejoin: miter; stroke-linecap: square"/>
</g>
<g id="patch_21">
<path d="M 410.08 377.56 L 410.08 206 
" style="fill: none; stroke: #000000; stroke-width: 0.8; stroke-linejoin: miter; stroke-linecap: square"/>
</g>
<g id="patch_22">
<path d="M 229.04 377.56 L 410.08 377.56 
" style="fill: none; stroke: #000000; stroke-width: 0.8; stroke-linejoin: miter; stroke-linecap: square"/>
</g>
<g id="patch_23">
<path d="M 229.04 206 L 410.08 206 
" style="fill: none; stroke: #000000; stroke-width: 0.8; stroke-linejoin: miter; stroke-linecap: square"/>
</g>
<g id="axes_4">
<g id="patch_24">
<path d="M 238.092 283.202 L 310.508 283.202 L 310.508 214.578 L 238.092 214.578 z
" style="fill: #ffffff"/>
</g>
<g id="heat0">
<path d="M 238.092 283.202 L 310.508 283.202 L 310.508 214.578 L 238.092 214.578 z
" clip-path="url(#pa3b831fb2b)" style="fill: url(#hg0)"/>
</g>
<g id="matplotlib.axis_7">
<g id="text_42">
<g transform="translate(268.85 298.900)">
<text style="white-space: pre"><tspan x="0.000" y="-0.503" style="font-style: oblique; font-size: 10px">Y</tspan><tspan x="6.108" y="1.137" style="font-size: 7px">1</tspan></text>
</g>
</g>
</g>
<g id="matplotlib.axis_8">
<g id="text_43">
<g transform="translate(322.106 254.34) rotate(-90)">
<text style="white-space: pre"><tspan x="0.000" y="-0.503" style="font-style: oblique; font-size: 10px">Y</tspan><tspan x="6.108" y="1.137" style="font-size: 7px">3</tspan></text>
</g>
</g>
</g>
<g id="patch_25">
<path d="M 238.092 283.202 L 238.092 214.578 
" style="fill: none; stroke: #000000; stroke-width: 0.8; stroke-linejoin: miter; stroke-linecap: square"/>
</g>
<g id="patch_26">
<path d="M 310.508 283.202 L 310.508 214.578 
" style="fill: none; stroke: #000000; stroke-width: 0.8; stroke-linejoin: miter; stroke-linecap: square"/>
</g>
<g id="patch_27">
<path d="M 238.092 283.202 L 310.508 283.202 
" style="fill: none; stroke: #000000; stroke-width: 0.8; stroke-linejoin: miter; stroke-linecap: square"/>
</g>
<g id="patch_28">
<path d="M 238.092 214.578 L 310.508 214.578 
" style="fill: none; stroke: #000000; stroke-width: 0.8; stroke-linejoin: miter; stroke-linecap: square"/>
</g>
</g>
<g id="legend_2">
<g id="patch_29">
<path d="M 366.486 283.202 L 405.417 283.202 Q 407.083 283.202 407.083 281.536 L 407.083 234.361 Q 407.083 232.695 405.417 232.695 L 366.486 232.695 Q 364.82 232.695 364.82 234.361 L 364.82 281.536 Q 364.82 283.202 366.486 283.202 z
" style="fill: #ffffff; opacity: 0.8; stroke: #cccccc; stroke-linejoin: miter"/>
</g>
<g id="patch_30">
<path d="M 368.152 242.356 L 384.812 242.356 L 384.812 236.525 L 368.152 236.525 z
" style="fill: #0000ff; opacity: 0.8"/>
</g>
<g id="text_44">
<text style="font-size: 8.33px; text-anchor: start" x="391.476" y="242.557" transform="rotate(-0 391.476 242.356)">LD</text>
</g>
<g id="patch_31">
<path d="M 368.152 254.283 L 384.812 254.283 L 384.812 248.452 L 368.152 248.452 z
" style="fill: #ff0000; opacity: 0.8"/>
</g>
<g id="text_45">
<text style="font-size: 8.33px; text-anchor: start" x="391.476" y="254.484" transform="rotate(-0 391.476 254.283)">TP</text>
</g>
<g id="patch_32">
<path d="M 368.152 266.210 L 384.812 266.210 L 384.812 260.379 L 368.152 260.379 z
" style="fill: #00ffff; opacity: 0.5"/>
</g>
<g id="text_46">
<text style="font-size: 8.33px; text-anchor: start" x="391.476" y="266.411" transform="rotate(-0 391.476 266.210)">UP</text>
</g>
<g id="line2d_48">
<path d="M 368.152 275.222 L 376.482 275.222 L 384.812 275.222 
" style="fill: none; stroke-dasharray: 5.55,2.4; stroke-dashoffset: 0; stroke: #000000; stroke-width: 1.5"/>
</g>
<g id="text_47">
<text style="font-size: 8.33px; text-anchor: start" x="391.476" y="278.338" transform="rotate(-0 391.476 278.137)">TM</text>
</g>
</g>
</g>
<g id="axes_5">
<g id="patch_33">
<path d="M 421.56 377.56 L 602.6 377.56 L 602.6 206 L 421.56 206 z
" style="fill: #ffffff"/>
</g>
<g id="patch_34">
<path d="M 374.94 377.56 L 374.94 377.559 L 377.834 377.559 L 377.834 377.559 L 380.728 377.559 L 380.728 377.559 L 383.622 377.559 L 383.622 377.559 L 386.516 377.559 L 386.516 377.558 L 389.41 377.558 L 389.41 377.558 L 392.304 377.558 L 392.304 377.557 L 395.198 377.557 L 395.198 377.555 L 398.092 377.555 L 398.092 377.553 L 400.986 377.553 L 400.986 377.550 L 403.88 377.550 L 403.88 377.545 L 406.774 377.545 L 406.774 377.538 L 409.668 377.538 L 409.668 377.529 L 412.562 377.529 L 412.562 377.515 L 415.456 377.515 L 415.456 377.496 L 418.35 377.496 L 418.35 377.470 L 421.244 377.470 L 421.244 377.434 L 424.138 377.434 L 424.138 377.386 L 427.032 377.386 L 427.032 377.321 L 429.926 377.321 L 429.926 377.233 L 432.82 377.233 L 432.82 377.130 L 435.714 377.130 L 435.714 376.969 L 438.608 376.969 L 438.608 376.781 L 441.502 376.781 L 441.502 376.539 L 444.396 376.539 L 444.396 376.225 L 447.29 376.225 L 447.29 375.861 L 450.184 375.861 L 450.184 375.400 L 453.078 375.400 L 453.078 374.827 L 455.972 374.827 L 455.972 374.109 L 458.866 374.109 L 458.866 373.260 L 461.76 373.260 L 461.76 372.343 L 464.654 372.343 L 464.654 371.163 L 467.548 371.163 L 467.548 369.819 L 470.442 369.819 L 470.442 368.266 L 473.336 368.266 L 473.336 366.569 L 476.23 366.569 L 476.23 364.652 L 479.124 364.652 L 479.124 362.544 L 482.018 362.544 L 482.018 360.304 L 484.912 360.304 L 484.912 357.768 L 487.806 357.768 L 487.806 355.142 L 490.7 355.142 L 490.7 352.310 L 493.594 352.310 L 493.594 349.501 L 496.488 349.501 L 496.488 346.639 L 499.382 346.639 L 499.382 343.865 L 502.276 343.865 L 502.276 341.092 L 505.17 341.092 L 505.17 338.470 L 508.064 338.470 L 508.064 335.944 L 510.958 335.944 L 510.958 333.979 L 513.852 333.979 L 513.852 331.899 L 516.746 331.899 L 516.746 330.439 L 519.64 330.439 L 519.64 329.232 L 522.534 329.232 L 522.534 328.581 L 525.428 328.581 L 525.428 328.251 L 528.322 328.251 L 528.322 328.537 L 531.216 328.537 L 531.216 329.155 L 534.11 329.155 L 534.11 330.270 L 537.004 330.270 L 537.004 331.735 L 539.898 331.735 L 539.898 333.531 L 542.792 333.531 L 542.792 335.669 L 545.686 335.669 L 545.686 338.066 L 548.58 338.066 L 548.58 340.636 L 551.474 340.636 L 551.474 343.423 L 554.368 343.423 L 554.368 346.198 L 557.262 346.198 L 557.262 349.143 L 560.156 349.143 L 560.156 351.903 L 563.05 351.903 L 563.05 354.613 L 565.944 354.613 L 565.944 357.385 L 568.838 357.385 L 568.838 359.815 L 571.732 359.815 L 571.732 362.172 L 574.626 362.172 L 574.626 364.394 L 577.52 364.394 L 577.52 366.273 L 580.414 366.273 L 580.414 368.002 L 583.308 368.002 L 583.308 369.592 L 586.202 369.592 L 586.202 370.928 L 589.096 370.928 L 589.096 372.125 L 591.99 372.125 L 591.99 373.155 L 594.884 373.155 L 594.884 374.012 L 597.778 374.012 L 597.778 374.699 L 600.672 374.699 L 600.672 375.297 L 603.566 375.297 L 603.566 375.777 L 606.46 375.777 L 606.46 376.170 L 609.354 376.170 L 609.354 376.492 L 612.248 376.492 L 612.248 376.750 L 615.142 376.750 L 615.142 376.939 L 618.036 376.939 L 618.036 377.098 L 620.93 377.098 L 620.93 377.223 L 623.824 377.223 L 623.824 377.318 L 626.718 377.318 L 626.718 377.377 L 629.612 377.377 L 629.612 377.427 L 632.506 377.427 L 632.506 377.465 L 635.4 377.465 L 635.4 377.492 L 638.294 377.492 L 638.294 377.512 L 641.188 377.512 L 641.188 377.527 L 644.082 377.527 L 644.082 377.537 L 646.976 377.537 L 646.976 377.544 L 649.87 377.544 L 649.87 377.549 L 652.764 377.549 L 652.764 377.552 L 655.658 377.552 L 655.658 377.555 L 658.552 377.555 L 658.552 377.556 L 661.446 377.556 L 661.446 377.557 L 664.34 377.557 L 664.34 377.56 
" clip-path="url(#pe06227b2cf)" style="fill: #0000ff; opacity: 0.8"/>
</g>
<g id="patch_35">
<path d="M 235.48 377.56 L 235.48 377.56 L 239.864 377.56 L 239.864 377.56 L 244.248 377.56 L 244.248 377.56 L 248.632 377.56 L 248.632 377.56 L 253.016 377.56 L 253.016 377.559 L 257.4 377.559 L 257.4 377.56 L 261.784 377.56 L 261.784 377.559 L 266.168 377.559 L 266.168 377.56 L 270.552 377.56 L 270.552 377.56 L 274.936 377.56 L 274.936 377.56 L 279.32 377.56 L 279.32 377.557 L 283.704 377.557 L 283.704 377.56 L 288.088 377.56 L 288.088 377.557 L 292.472 377.557 L 292.472 377.557 L 296.856 377.557 L 296.856 377.554 L 301.24 377.554 L 301.24 377.551 L 305.624 377.551 L 305.624 377.554 L 310.008 377.554 L 310.008 377.551 L 314.392 377.551 L 314.392 377.555 L 318.776 377.555 L 318.776 377.546 L 323.16 377.546 L 323.16 377.542 L 327.544 377.542 L 327.544 377.543 L 331.928 377.543 L 331.928 377.533 L 336.312 377.533 L 336.312 377.517 L 340.696 377.517 L 340.696 377.519 L 345.08 377.519 L 345.08 377.503 L 349.464 377.503 L 349.464 377.487 L 353.848 377.487 L 353.848 377.465 L 358.232 377.465 L 358.232 377.451 L 362.616 377.451 L 362.616 377.414 L 367 377.414 L 367 377.368 L 371.384 377.368 L 371.384 377.330 L 375.768 377.330 L 375.768 377.278 L 380.152 377.278 L 380.152 377.202 L 384.536 377.202 L 384.536 377.144 L 388.92 377.144 L 388.92 377.015 L 393.304 377.015 L 393.304 376.934 L 397.688 376.934 L 397.688 376.754 L 402.072 376.754 L 402.072 376.607 L 406.456 376.607 L 406.456 376.408 L 410.84 376.408 L 410.84 376.219 L 415.224 376.219 L 415.224 375.951 L 419.608 375.951 L 419.608 375.595 L 423.992 375.595 L 423.992 375.379 L 428.376 375.379 L 428.376 374.779 L 432.76 374.779 L 432.76 374.313 L 437.144 374.313 L 437.144 373.803 L 441.528 373.803 L 441.528 373.185 L 445.912 373.185 L 445.912 372.496 L 450.296 372.496 L 450.296 371.741 L 454.68 371.741 L 454.68 370.639 L 459.064 370.639 L 459.064 369.676 L 463.448 369.676 L 463.448 368.346 L 467.832 368.346 L 467.832 367.139 L 472.216 367.139 L 472.216 365.564 L 476.6 365.564 L 476.6 364.024 L 480.984 364.024 L 480.984 362.325 L 485.368 362.325 L 485.368 360.272 L 489.752 360.272 L 489.752 358.209 L 494.136 358.209 L 494.136 356.026 L 498.52 356.026 L 498.52 353.463 L 502.904 353.463 L 502.904 350.822 L 507.288 350.822 L 507.288 348.719 L 511.672 348.719 L 511.672 346.237 L 516.056 346.237 L 516.056 343.927 L 520.44 343.927 L 520.44 341.113 L 524.824 341.113 L 524.824 338.768 L 529.208 338.768 L 529.208 336.934 L 533.592 336.934 L 533.592 335.236 L 537.976 335.236 L 537.976 333.773 L 542.36 333.773 L 542.36 332.770 L 546.744 332.770 L 546.744 332.530 L 551.128 332.530 L 551.128 333.305 L 555.512 333.305 L 555.512 334.967 L 559.896 334.967 L 559.896 337.840 L 564.28 337.840 L 564.28 342.513 L 568.664 342.513 L 568.664 350.847 L 573.048 350.847 L 573.048 361.849 L 577.432 361.849 L 577.432 367.038 L 581.816 367.038 L 581.816 369.941 L 586.2 369.941 L 586.2 372.192 L 590.584 372.192 L 590.584 373.626 L 594.968 373.626 L 594.968 374.657 L 599.352 374.657 L 599.352 375.513 L 603.736 375.513 L 603.736 376.075 L 608.12 376.075 L 608.12 376.430 L 612.504 376.430 L 612.504 376.754 L 616.888 376.754 L 616.888 376.971 L 621.272 376.971 L 621.272 377.093 L 625.656 377.093 L 625.656 377.258 L 630.04 377.258 L 630.04 377.338 L 634.424 377.338 L 634.424 377.396 L 638.808 377.396 L 638.808 377.449 L 643.192 377.449 L 643.192 377.464 L 647.576 377.464 L 647.576 377.491 L 651.96 377.491 L 651.96 377.513 L 656.344 377.513 L 656.344 377.522 L 660.728 377.522 L 660.728 377.527 L 665.112 377.527 L 665.112 377.543 L 669.496 377.543 L 669.496 377.550 L 673.88 377.550 L 673.88 377.56 
" clip-path="url(#pe06227b2cf)" style="fill: #ff0000; opacity: 0.8"/>
</g>
<g id="patch_36">
<path d="M 181.592 377.56 L 181.592 377.56 L 186.744 377.56 L 186.744 377.56 L 191.896 377.56 L 191.896 377.56 L 197.048 377.56 L 197.048 377.56 L 202.2 377.56 L 202.2 377.56 L 207.352 377.56 L 207.352 377.56 L 212.504 377.56 L 212.504 377.559 L 217.656 377.559 L 217.656 377.56 L 222.808 377.56 L 222.808 377.56 L 227.96 377.56 L 227.96 377.56 L 233.112 377.56 L 233.112 377.559 L 238.264 377.559 L 238.264 377.56 L 243.416 377.56 L 243.416 377.559 L 248.568 377.559 L 248.568 377.559 L 253.72 377.559 L 253.72 377.557 L 258.872 377.557 L 258.872 377.556 L 264.024 377.556 L 264.024 377.558 L 269.176 377.558 L 269.176 377.554 L 274.328 377.554 L 274.328 377.554 L 279.48 377.554 L 279.48 377.555 L 284.632 377.555 L 284.632 377.551 L 289.784 377.551 L 289.784 377.544 L 294.936 377.544 L 294.936 377.548 L 300.088 377.548 L 300.088 377.536 L 305.24 377.536 L 305.24 377.529 L 310.392 377.529 L 310.392 377.512 L 315.544 377.512 L 315.544 377.520 L 320.696 377.520 L 320.696 377.497 L 325.848 377.497 L 325.848 377.478 L 331 377.478 L 331 377.457 L 336.152 377.457 L 336.152 377.434 L 341.304 377.434 L 341.304 377.397 L 346.456 377.397 L 346.456 377.365 L 351.608 377.365 L 351.608 377.271 L 356.76 377.271 L 356.76 377.222 L 361.912 377.222 L 361.912 377.153 L 367.064 377.153 L 367.064 377.027 L 372.216 377.027 L 372.216 376.909 L 377.368 376.909 L 377.368 376.770 L 382.52 376.770 L 382.52 376.648 L 387.672 376.648 L 387.672 376.381 L 392.824 376.381 L 392.824 376.147 L 397.976 376.147 L 397.976 375.924 L 403.128 375.924 L 403.128 375.554 L 408.28 375.554 L 408.28 375.133 L 413.432 375.133 L 413.432 374.794 L 418.584 374.794 L 418.584 374.345 L 423.736 374.345 L 423.736 373.698 L 428.888 373.698 L 428.888 373.212 L 434.04 373.212 L 434.04 372.512 L 439.192 372.512 L 439.192 371.693 L 444.344 371.693 L 444.344 371.004 L 449.496 371.004 L 449.496 369.963 L 454.648 369.963 L 454.648 369.099 L 459.8 369.099 L 459.8 367.941 L 464.952 367.941 L 464.952 366.821 L 470.104 366.821 L 470.104 365.636 L 475.256 365.636 L 475.256 364.390 L 480.408 364.390 L 480.408 362.773 L 485.56 362.773 L 485.56 361.373 L 490.712 361.373 L 490.712 359.907 L 495.864 359.907 L 495.864 358.323 L 501.016 358.323 L 501.016 356.721 L 506.168 356.721 L 506.168 354.852 L 511.32 354.852 L 511.32 353.262 L 516.472 353.262 L 516.472 350.967 L 521.624 350.967 L 521.624 349.032 L 526.776 349.032 L 526.776 347.125 L 531.928 347.125 L 531.928 344.905 L 537.08 344.905 L 537.08 342.437 L 542.232 342.437 L 542.232 339.954 L 547.384 339.954 L 547.384 337.170 L 552.536 337.170 L 552.536 333.745 L 557.688 333.745 L 557.688 329.529 L 562.84 329.529 L 562.84 324.419 L 567.992 324.419 L 567.992 316.114 L 573.144 316.114 L 573.144 361.830 L 578.296 361.830 L 578.296 369.158 L 583.448 369.158 L 583.448 372.142 L 588.6 372.142 L 588.6 373.732 L 593.752 373.732 L 593.752 374.826 L 598.904 374.826 L 598.904 375.688 L 604.056 375.688 L 604.056 376.132 L 609.208 376.132 L 609.208 376.561 L 614.36 376.561 L 614.36 376.777 L 619.512 376.777 L 619.512 376.979 L 624.664 376.979 L 624.664 377.138 L 629.816 377.138 L 629.816 377.249 L 634.968 377.249 L 634.968 377.319 L 640.12 377.319 L 640.12 377.388 L 645.272 377.388 L 645.272 377.435 L 650.424 377.435 L 650.424 377.478 L 655.576 377.478 L 655.576 377.494 L 660.728 377.494 L 660.728 377.525 L 665.88 377.525 L 665.88 377.527 L 671.032 377.527 L 671.032 377.539 L 676.184 377.539 L 676.184 377.546 L 681.336 377.546 L 681.336 377.546 L 686.488 377.546 L 686.488 377.555 L 691.64 377.555 L 691.64 377.554 L 696.792 377.554 L 696.792 377.56 
" clip-path="url(#pe06227b2cf)" style="fill: #00ffff; opacity: 0.5"/>
</g>
<g id="matplotlib.axis_9">
<g id="xtick_16">
<g id="line2d_49">
<g>
<use href="#m7aefe9833c" x="451.607" y="377.56" style="stroke: #000000; stroke-width: 0.8"/>
</g>
</g>
<g id="text_48">
<text style="font-size: 10px; text-anchor: middle" x="451.607" y="392.358" transform="rotate(-0 451.607 392.158)">−0.4</text>
</g>
</g>
<g id="xtick_17">
<g id="line2d_50">
<g>
<use href="#m7aefe9833c" x="481.806" y="377.56" style="stroke: #000000; stroke-width: 0.8"/>
</g>
</g>
<g id="text_49">
<text style="font-size: 10px; text-anchor: middle" x="481.806" y="392.358" transform="rotate(-0 481.806 392.158)">−0.3</text>
</g>
</g>
<g id="xtick_18">
<g id="line2d_51">
<g>
<use href="#m7aefe9833c" x="512.004" y="377.56" style="stroke: #000000; stroke-width: 0.8"/>
</g>
</g>
<g id="text_50">
<text style="font-size: 10px; text-anchor: middle" x="512.004" y="392.358" transform="rotate(-0 512.004 392.158)">−0.2</text>
</g>
</g>
<g id="xtick_19">
<g id="line2d_52">
<g>
<use href="#m7aefe9833c" x="542.203" y="377.56" style="stroke: #000000; stroke-width: 0.8"/>
</g>
</g>
<g id="text_51">
<text style="font-size: 10px; text-anchor: middle" x="542.203" y="392.358" transform="rotate(-0 542.203 392.158)">−0.1</text>
</g>
</g>
<g id="xtick_20">
<g id="line2d_53">
<g>
<use href="#m7aefe9833c" x="572.401" y="377.56" style="stroke: #000000; stroke-width: 0.8"/>
</g>
</g>
<g id="text_52">
<text style="font-size: 10px; text-anchor: middle" x="572.401" y="392.358" transform="rotate(-0 572.401 392.158)">0.0</text>
</g>
</g>
<g id="xtick_21">
<g id="line2d_54">
<g>
<use href="#m7aefe9833c" x="602.6" y="377.56" style="stroke: #000000; stroke-width: 0.8"/>
</g>
</g>
<g id="text_53">
<text style="font-size: 10px; text-anchor: middle" x="602.6" y="392.358" transform="rotate(-0 602.6 392.158)">0.1</text>
</g>
</g>
<g id="text_54">
<text style="font-size: 10px; text-anchor: middle" x="512.08" y="406.037" transform="rotate(-0 512.08 405.836)">Instability D / a.u.</text>
</g>
</g>
<g id="matplotlib.axis_10"/>
<g id="line2d_55">
<path d="M 572.401 377.56 L 572.401 312.441 
" clip-path="url(#pe06227b2cf)" style="fill: none; stroke-dasharray: 5.55,2.4; stroke-dashoffset: 0; stroke: #000000; stroke-width: 1.5"/>
</g>
<g id="patch_37">
<path d="M 421.56 377.56 L 421.56 206 
" style="fill: none; stroke: #000000; stroke-width: 0.8; stroke-linejoin: miter; stroke-linecap: square"/>
</g>
<g id="patch_38">
<path d="M 602.6 377.56 L 602.6 206 
" style="fill: none; stroke: #000000; stroke-width: 0.8; stroke-linejoin: miter; stroke-linecap: square"/>
</g>
<g id="patch_39">
<path d="M 421.56 377.56 L 602.6 377.56 
" style="fill: none; stroke: #000000; stroke-width: 0.8; stroke-linejoin: miter; stroke-linecap: square"/>
</g>
<g id="patch_40">
<path d="M 421.56 206 L 602.6 206 
" style="fill: none; stroke: #000000; stroke-width: 0.8; stroke-linejoin: miter; stroke-linecap: square"/>
</g>
<g id="axes_6">
<g id="patch_41">
<path d="M 430.612 283.202 L 503.028 283.202 L 503.028 214.578 L 430.612 214.578 z
" style="fill: #ffffff"/>
</g>
<g id="heat1">
<path d="M 430.612 283.202 L 503.028 283.202 L 503.028 214.578 L 430.612 214.578 z
" clip-path="url(#p7bc465cf39)" style="fill: url(#hg1)"/>
</g>
<g id="matplotlib.axis_11">
<g id="text_55">
<g transform="translate(461.37 298.900)">
<text style="white-space: pre"><tspan x="0.000" y="-0.503" style="font-style: oblique; font-size: 10px">Y</tspan><tspan x="6.108" y="1.137" style="font-size: 7px">1</tspan></text>
</g>
</g>
</g>
<g id="matplotlib.axis_12">
<g id="text_56">
<g transform="translate(514.626 254.34) rotate(-90)">
<text style="white-space: pre"><tspan x="0.000" y="-0.503" style="font-style: oblique; font-size: 10px">Y</tspan><tspan x="6.108" y="1.137" style="font-size: 7px">3</tspan></text>
</g>
</g>
</g>
<g id="patch_42">
<path d="M 430.612 283.202 L 430.612 214.578 
" style="fill: none; stroke: #000000; stroke-width: 0.8; stroke-linejoin: miter; stroke-linecap: square"/>
</g>
<g id="patch_43">
<path d="M 503.028 283.202 L 503.028 214.578 
" style="fill: none; stroke: #000000; stroke-width: 0.8; stroke-linejoin: miter; stroke-linecap: square"/>
</g>
<g id="patch_44">
<path d="M 430.612 283.202 L 503.028 283.202 
" style="fill: none; stroke: #000000; stroke-width: 0.8; stroke-linejoin: miter; stroke-linecap: square"/>
</g>
<g id="patch_45">
<path d="M 430.612 214.578 L 503.028 214.578 
" style="fill: none; stroke: #000000; stroke-width: 0.8; stroke-linejoin: miter; stroke-linecap: square"/>
</g>
</g>
</g>
<g id="axes_7">
<g id="patch_46">
<path d="M 614.08 377.56 L 795.12 377.56 L 795.12 206 L 614.08 206 z
" style="fill: #ffffff"/>
</g>
<g id="patch_47">
<path d="M 680.58 377.56 L 680.58 377.515 L 681.48 377.515 L 681.48 377.495 L 682.38 377.495 L 682.38 377.466 L 683.28 377.466 L 683.28 377.426 L 684.18 377.426 L 684.18 377.370 L 685.08 377.370 L 685.08 377.291 L 685.98 377.291 L 685.98 377.169 L 686.88 377.169 L 686.88 377.047 L 687.78 377.047 L 687.78 376.862 L 688.68 376.862 L 688.68 376.611 L 689.58 376.611 L 689.58 376.292 L 690.48 376.292 L 690.48 375.842 L 691.38 375.842 L 691.38 375.323 L 692.28 375.323 L 692.28 374.624 L 693.18 374.624 L 693.18 373.674 L 694.08 373.674 L 694.08 372.599 L 694.98 372.599 L 694.98 371.347 L 695.88 371.347 L 695.88 369.565 L 696.78 369.565 L 696.78 367.649 L 697.68 367.649 L 697.68 365.288 L 698.58 365.288 L 698.58 362.154 L 699.48 362.154 L 699.48 358.891 L 700.38 358.891 L 700.38 355.025 L 701.28 355.025 L 701.28 350.715 L 702.18 350.715 L 702.18 345.500 L 703.08 345.500 L 703.08 339.905 L 703.98 339.905 L 703.98 333.736 L 704.88 333.736 L 704.88 326.913 L 705.78 326.913 L 705.78 319.522 L 706.68 319.522 L 706.68 311.816 L 707.58 311.816 L 707.58 303.076 L 708.48 303.076 L 708.48 294.512 L 709.38 294.512 L 709.38 285.575 L 710.28 285.575 L 710.28 276.416 L 711.18 276.416 L 711.18 267.845 L 712.08 267.845 L 712.08 259.409 L 712.98 259.409 L 712.98 251.338 L 713.88 251.338 L 713.88 244.251 L 714.78 244.251 L 714.78 237.212 L 715.68 237.212 L 715.68 231.838 L 716.58 231.838 L 716.58 227.343 L 717.48 227.343 L 717.48 224.696 L 718.38 224.696 L 718.38 222.550 L 719.28 222.550 L 719.28 221.675 L 720.18 221.675 L 720.18 222.973 L 721.08 222.973 L 721.08 225.143 L 721.98 225.143 L 721.98 228.431 L 722.88 228.431 L 722.88 233.094 L 723.78 233.094 L 723.78 238.914 L 724.68 238.914 L 724.68 245.560 L 725.58 245.560 L 725.58 253.292 L 726.48 253.292 L 726.48 261.023 L 727.38 261.023 L 727.38 269.787 L 728.28 269.787 L 728.28 278.592 L 729.18 278.592 L 729.18 287.781 L 730.08 287.781 L 730.08 296.429 L 730.98 296.429 L 730.98 304.991 L 731.88 304.991 L 731.88 312.793 L 732.78 312.793 L 732.78 320.967 L 733.68 320.967 L 733.68 328.451 L 734.58 328.451 L 734.58 335.329 L 735.48 335.329 L 735.48 341.305 L 736.38 341.305 L 736.38 346.913 L 737.28 346.913 L 737.28 351.722 L 738.18 351.722 L 738.18 356.056 L 739.08 356.056 L 739.08 359.880 L 739.98 359.880 L 739.98 362.989 L 740.88 362.989 L 740.88 365.892 L 741.78 365.892 L 741.78 368.108 L 742.68 368.108 L 742.68 370.079 L 743.58 370.079 L 743.58 371.652 L 744.48 371.652 L 744.48 372.936 L 745.38 372.936 L 745.38 373.959 L 746.28 373.959 L 746.28 374.754 L 747.18 374.754 L 747.18 375.435 L 748.08 375.435 L 748.08 375.986 L 748.98 375.986 L 748.98 376.357 L 749.88 376.357 L 749.88 376.679 L 750.78 376.679 L 750.78 376.895 L 751.68 376.895 L 751.68 377.079 L 752.58 377.079 L 752.58 377.219 L 753.48 377.219 L 753.48 377.313 L 754.38 377.313 L 754.38 377.385 L 755.28 377.385 L 755.28 377.436 L 756.18 377.436 L 756.18 377.474 L 757.08 377.474 L 757.08 377.500 L 757.98 377.500 L 757.98 377.519 L 758.88 377.519 L 758.88 377.532 L 759.78 377.532 L 759.78 377.541 L 760.68 377.541 L 760.68 377.547 L 761.58 377.547 L 761.58 377.551 L 762.48 377.551 L 762.48 377.554 L 763.38 377.554 L 763.38 377.556 L 764.28 377.556 L 764.28 377.557 L 765.18 377.557 L 765.18 377.558 L 766.08 377.558 L 766.08 377.559 L 766.98 377.559 L 766.98 377.559 L 767.88 377.559 L 767.88 377.559 L 768.78 377.559 L 768.78 377.559 L 769.68 377.559 L 769.68 377.559 L 770.58 377.559 L 770.58 377.56 
" clip-path="url(#p9a1a445841)" style="fill: #0000ff; opacity: 0.8"/>
</g>
<g id="patch_48">
<path d="M 612.088 377.56 L 612.088 377.557 L 613.624 377.557 L 613.624 377.56 L 615.16 377.56 L 615.16 377.56 L 616.696 377.56 L 616.696 377.555 L 618.232 377.555 L 618.232 377.557 L 619.768 377.557 L 619.768 377.555 L 621.304 377.555 L 621.304 377.557 L 622.84 377.557 L 622.84 377.547 L 624.376 377.547 L 624.376 377.535 L 625.912 377.535 L 625.912 377.535 L 627.448 377.535 L 627.448 377.528 L 628.984 377.528 L 628.984 377.521 L 630.52 377.521 L 630.52 377.509 L 632.056 377.509 L 632.056 377.475 L 633.592 377.475 L 633.592 377.460 L 635.128 377.460 L 635.128 377.443 L 636.664 377.443 L 636.664 377.436 L 638.2 377.436 L 638.2 377.370 L 639.736 377.370 L 639.736 377.317 L 641.272 377.317 L 641.272 377.307 L 642.808 377.307 L 642.808 377.273 L 644.344 377.273 L 644.344 377.205 L 645.88 377.205 L 645.88 377.011 L 647.416 377.011 L 647.416 376.873 L 648.952 376.873 L 648.952 376.747 L 650.488 376.747 L 650.488 376.635 L 652.024 376.635 L 652.024 376.448 L 653.56 376.448 L 653.56 376.150 L 655.096 376.150 L 655.096 375.953 L 656.632 375.953 L 656.632 375.883 L 658.168 375.883 L 658.168 375.271 L 659.704 375.271 L 659.704 374.961 L 661.24 374.961 L 661.24 374.429 L 662.776 374.429 L 662.776 374.162 L 664.312 374.162 L 664.312 373.449 L 665.848 373.449 L 665.848 372.806 L 667.384 372.806 L 667.384 372.236 L 668.92 372.236 L 668.92 371.445 L 670.456 371.445 L 670.456 370.760 L 671.992 370.760 L 671.992 369.790 L 673.528 369.790 L 673.528 368.952 L 675.064 368.952 L 675.064 367.482 L 676.6 367.482 L 676.6 366.363 L 678.136 366.363 L 678.136 365.133 L 679.672 365.133 L 679.672 363.726 L 681.208 363.726 L 681.208 362.335 L 682.744 362.335 L 682.744 360.581 L 684.28 360.581 L 684.28 359.110 L 685.816 359.110 L 685.816 357.186 L 687.352 357.186 L 687.352 355.138 L 688.888 355.138 L 688.888 352.966 L 690.424 352.966 L 690.424 351.260 L 691.96 351.260 L 691.96 349.101 L 693.496 349.101 L 693.496 346.507 L 695.032 346.507 L 695.032 344.621 L 696.568 344.621 L 696.568 342.313 L 698.104 342.313 L 698.104 339.775 L 699.64 339.775 L 699.64 337.026 L 701.176 337.026 L 701.176 334.822 L 702.712 334.822 L 702.712 331.551 L 704.248 331.551 L 704.248 329.047 L 705.784 329.047 L 705.784 326.698 L 707.32 326.698 L 707.32 323.811 L 708.856 323.811 L 708.856 321.360 L 710.392 321.360 L 710.392 318.953 L 711.928 318.953 L 711.928 317.261 L 713.464 317.261 L 713.464 314.891 L 715 314.891 L 715 313.143 L 716.536 313.143 L 716.536 311.670 L 718.072 311.670 L 718.072 310.552 L 719.608 310.552 L 719.608 309.091 L 721.144 309.091 L 721.144 307.422 L 722.68 307.422 L 722.68 308.628 L 724.216 308.628 L 724.216 307.645 L 725.752 307.645 L 725.752 308.756 L 727.288 308.756 L 727.288 308.856 L 728.824 308.856 L 728.824 311.559 L 730.36 311.559 L 730.36 312.527 L 731.896 312.527 L 731.896 313.706 L 733.432 313.706 L 733.432 315.417 L 734.968 315.417 L 734.968 318.312 L 736.504 318.312 L 736.504 320.605 L 738.04 320.605 L 738.04 323.345 L 739.576 323.345 L 739.576 325.463 L 741.112 325.463 L 741.112 329.309 L 742.648 329.309 L 742.648 332.427 L 744.184 332.427 L 744.184 334.961 L 745.72 334.961 L 745.72 338.450 L 747.256 338.450 L 747.256 341.615 L 748.792 341.615 L 748.792 344.539 L 750.328 344.539 L 750.328 347.928 L 751.864 347.928 L 751.864 351.493 L 753.4 351.493 L 753.4 354.628 L 754.936 354.628 L 754.936 358.191 L 756.472 358.191 L 756.472 360.976 L 758.008 360.976 L 758.008 364.427 L 759.544 364.427 L 759.544 368.057 L 761.08 368.057 L 761.08 370.937 L 762.616 370.937 L 762.616 374.281 L 764.152 374.281 L 764.152 377.125 L 765.688 377.125 L 765.688 377.56 
" clip-path="url(#p9a1a445841)" style="fill: #ff0000; opacity: 0.8"/>
</g>
<g id="patch_49">
<path d="M 596.76 377.56 L 596.76 377.56 L 598.452 377.56 L 598.452 377.555 L 600.144 377.555 L 600.144 377.557 L 601.836 377.557 L 601.836 377.555 L 603.528 377.555 L 603.528 377.555 L 605.22 377.555 L 605.22 377.56 L 606.912 377.56 L 606.912 377.557 L 608.604 377.557 L 608.604 377.548 L 610.296 377.548 L 610.296 377.544 L 611.988 377.544 L 611.988 377.542 L 613.68 377.542 L 613.68 377.544 L 615.372 377.544 L 615.372 377.524 L 617.064 377.524 L 617.064 377.529 L 618.756 377.529 L 618.756 377.498 L 620.448 377.498 L 620.448 377.498 L 622.14 377.498 L 622.14 377.476 L 623.832 377.476 L 623.832 377.443 L 625.524 377.443 L 625.524 377.379 L 627.216 377.379 L 627.216 377.348 L 628.908 377.348 L 628.908 377.291 L 630.6 377.291 L 630.6 377.214 L 632.292 377.214 L 632.292 377.192 L 633.984 377.192 L 633.984 377.059 L 635.676 377.059 L 635.676 376.912 L 637.368 376.912 L 637.368 376.824 L 639.06 376.824 L 639.06 376.566 L 640.752 376.566 L 640.752 376.335 L 642.444 376.335 L 642.444 376.022 L 644.136 376.022 L 644.136 375.714 L 645.828 375.714 L 645.828 375.480 L 647.52 375.480 L 647.52 374.865 L 649.212 374.865 L 649.212 374.484 L 650.904 374.484 L 650.904 373.969 L 652.596 373.969 L 652.596 373.237 L 654.288 373.237 L 654.288 372.630 L 655.98 372.630 L 655.98 371.925 L 657.672 371.925 L 657.672 371.008 L 659.364 371.008 L 659.364 370.286 L 661.056 370.286 L 661.056 369.105 L 662.748 369.105 L 662.748 367.713 L 664.44 367.713 L 664.44 366.664 L 666.132 366.664 L 666.132 365.730 L 667.824 365.730 L 667.824 364.023 L 669.516 364.023 L 669.516 362.919 L 671.208 362.919 L 671.208 361.598 L 672.9 361.598 L 672.9 360.388 L 674.592 360.388 L 674.592 358.683 L 676.284 358.683 L 676.284 357.128 L 677.976 357.128 L 677.976 355.899 L 679.668 355.899 L 679.668 354.379 L 681.36 354.379 L 681.36 352.674 L 683.052 352.674 L 683.052 351.277 L 684.744 351.277 L 684.744 349.940 L 686.436 349.940 L 686.436 348.645 L 688.128 348.645 L 688.128 347.129 L 689.82 347.129 L 689.82 346.325 L 691.512 346.325 L 691.512 344.323 L 693.204 344.323 L 693.204 343.294 L 694.896 343.294 L 694.896 342.842 L 696.588 342.842 L 696.588 342.118 L 698.28 342.118 L 698.28 340.948 L 699.972 340.948 L 699.972 339.851 L 701.664 339.851 L 701.664 339.996 L 703.356 339.996 L 703.356 338.333 L 705.048 338.333 L 705.048 338.307 L 706.74 338.307 L 706.74 337.620 L 708.432 337.620 L 708.432 336.826 L 710.124 336.826 L 710.124 336.674 L 711.816 336.674 L 711.816 336.102 L 713.508 336.102 L 713.508 336.091 L 715.2 336.091 L 715.2 335.721 L 716.892 335.721 L 716.892 335.185 L 718.584 335.185 L 718.584 335.716 L 720.276 335.716 L 720.276 334.560 L 721.968 334.560 L 721.968 334.588 L 723.66 334.588 L 723.66 334.315 L 725.352 334.315 L 725.352 334.639 L 727.044 334.639 L 727.044 334.320 L 728.736 334.320 L 728.736 333.985 L 730.428 333.985 L 730.428 335.071 L 732.12 335.071 L 732.12 334.782 L 733.812 334.782 L 733.812 333.958 L 735.504 333.958 L 735.504 334.430 L 737.196 334.430 L 737.196 334.586 L 738.888 334.586 L 738.888 334.811 L 740.58 334.811 L 740.58 334.604 L 742.272 334.604 L 742.272 334.714 L 743.964 334.714 L 743.964 334.159 L 745.656 334.159 L 745.656 334.342 L 747.348 334.342 L 747.348 334.483 L 749.04 334.483 L 749.04 334.060 L 750.732 334.060 L 750.732 334.917 L 752.424 334.917 L 752.424 334.035 L 754.116 334.035 L 754.116 334.185 L 755.808 334.185 L 755.808 333.976 L 757.5 333.976 L 757.5 334.084 L 759.192 334.084 L 759.192 334.064 L 760.884 334.064 L 760.884 334.375 L 762.576 334.375 L 762.576 333.822 L 764.268 333.822 L 764.268 361.283 L 765.96 361.283 L 765.96 377.56 
" clip-path="url(#p9a1a445841)" style="fill: #00ffff; opacity: 0.5"/>
</g>
<g id="matplotlib.axis_13">
<g id="xtick_22">
<g id="line2d_56">
<g>
<use href="#m7aefe9833c" x="644.127" y="377.56" style="stroke: #000000; stroke-width: 0.8"/>
</g>
</g>
<g id="text_57">
<text style="font-size: 10px; text-anchor: middle" x="644.127" y="392.358" transform="rotate(-0 644.127 392.158)">−0.4</text>
</g>
</g>
<g id="xtick_23">
<g id="line2d_57">
<g>
<use href="#m7aefe9833c" x="674.326" y="377.56" style="stroke: #000000; stroke-width: 0.8"/>
</g>
</g>
<g id="text_58">
<text style="font-size: 10px; text-anchor: middle" x="674.326" y="392.358" transform="rotate(-0 674.326 392.158)">−0.3</text>
</g>
</g>
<g id="xtick_24">
<g id="line2d_58">
<g>
<use href="#m7aefe9833c" x="704.524" y="377.56" style="stroke: #000000; stroke-width: 0.8"/>
</g>
</g>
<g id="text_59">
<text style="font-size: 10px; text-anchor: middle" x="704.524" y="392.358" transform="rotate(-0 704.524 392.158)">−0.2</text>
</g>
</g>
<g id="xtick_25">
<g id="line2d_59">
<g>
<use href="#m7aefe9833c" x="734.723" y="377.56" style="stroke: #000000; stroke-width: 0.8"/>
</g>
</g>
<g id="text_60">
<text style="font-size: 10px; text-anchor: middle" x="734.723" y="392.358" transform="rotate(-0 734.723 392.158)">−0.1</text>
</g>
</g>
<g id="xtick_26">
<g id="line2d_60">
<g>
<use href="#m7aefe9833c" x="764.921" y="377.56" style="stroke: #000000; stroke-width: 0.8"/>
</g>
</g>
<g id="text_61">
<text style="font-size: 10px; text-anchor: middle" x="764.921" y="392.358" transform="rotate(-0 764.921 392.158)">0.0</text>
</g>
</g>
<g id="xtick_27">
<g id="line2d_61">
<g>
<use href="#m7aefe9833c" x="795.12" y="377.56" style="stroke: #000000; stroke-width: 0.8"/>
</g>
</g>
<g id="text_62">
<text style="font-size: 10px; text-anchor: middle" x="795.12" y="392.358" transform="rotate(-0 795.12 392.158)">0.1</text>
</g>
</g>
<g id="text_63">
<text style="font-size: 10px; text-anchor: middle" x="704.6" y="406.037" transform="rotate(-0 704.6 405.836)">Instability D / a.u.</text>
</g>
</g>
<g id="matplotlib.axis_14">
<g id="text_64">
<text style="font-size: 10px; text-anchor: middle" x="810.318" y="291.980" transform="rotate(-90 810.318 291.78)">Probability density / a.u.</text>
</g>
</g>
<g id="line2d_62">
<path d="M 764.921 377.56 L 764.921 214.146 
" clip-path="url(#p9a1a445841)" style="fill: none; stroke-dasharray: 5.55,2.4; stroke-dashoffset: 0; stroke: #000000; stroke-width: 1.5"/>
</g>
<g id="patch_50">
<path d="M 614.08 377.56 L 614.08 206 
" style="fill: none; stroke: #000000; stroke-width: 0.8; stroke-linejoin: miter; stroke-linecap: square"/>
</g>
<g id="patch_51">
<path d="M 795.12 377.56 L 795.12 206 
" style="fill: none; stroke: #000000; stroke-width: 0.8; stroke-linejoin: miter; stroke-linecap: square"/>
</g>
<g id="patch_52">
<path d="M 614.08 377.56 L 795.12 377.56 
" style="fill: none; stroke: #000000; stroke-width: 0.8; stroke-linejoin: miter; stroke-linecap: square"/>
</g>
<g id="patch_53">
<path d="M 614.08 206 L 795.12 206 
" style="fill: none; stroke: #000000; stroke-width: 0.8; stroke-linejoin: miter; stroke-linecap: square"/>
</g>
<g id="axes_8">
<g id="patch_54">
<path d="M 623.132 283.202 L 695.548 283.202 L 695.548 214.578 L 623.132 214.578 z
" style="fill: #ffffff"/>
</g>
<g id="heat2">
<path d="M 623.132 283.202 L 695.548 283.202 L 695.548 214.578 L 623.132 214.578 z
" clip-path="url(#p355d8f776f)" style="fill: url(#hg2)"/>
</g>
<g id="matplotlib.axis_15">
<g id="text_65">
<g transform="translate(653.89 298.900)">
<text style="white-space: pre"><tspan x="0.000" y="-0.503" style="font-style: oblique; font-size: 10px">Y</tspan><tspan x="6.108" y="1.137" style="font-size: 7px">1</tspan></text>
</g>
</g>
</g>
<g id="matplotlib.axis_16">
<g id="text_66">
<g transform="translate(707.146 254.34) rotate(-90)">
<text style="white-space: pre"><tspan x="0.000" y="-0.503" style="font-style: oblique; font-size: 10px">Y</tspan><tspan x="6.108" y="1.137" style="font-size: 7px">3</tspan></text>
</g>
</g>
</g>
<g id="patch_55">
<path d="M 623.132 283.202 L 623.132 214.578 
" style="fill: none; stroke: #000000; stroke-width: 0.8; stroke-linejoin: miter; stroke-linecap: square"/>
</g>
<g id="patch_56">
<path d="M 695.548 283.202 L 695.548 214.578 
" style="fill: none; stroke: #000000; stroke-width: 0.8; stroke-linejoin: miter; stroke-linecap: square"/>
</g>
<g id="patch_57">
<path d="M 623.132 283.202 L 695.548 283.202 
" style="fill: none; stroke: #000000; stroke-width: 0.8; stroke-linejoin: miter; stroke-linecap: square"/>
</g>
<g id="patch_58">
<path d="M 623.132 214.578 L 695.548 214.578 
" style="fill: none; stroke: #000000; stroke-width: 0.8; stroke-linejoin: miter; stroke-linecap: square"/>
</g>
</g>
</g>
</g>
<defs>
<clipPath id="p8b01ac9c0a">
<rect x="36.52" y="0.36" width="181.04" height="377.2"/>
</clipPath>
<clipPath id="p8d22a41677">
<rect x="229.04" y="0.36" width="566.08" height="171.64"/>
</clipPath>
<clipPath id="p05ba5c28d5">
<rect x="229.04" y="206" width="181.04" height="171.56"/>
</clipPath>
<clipPath id="pa3b831fb2b">
<rect x="238.092" y="214.578" width="72.416" height="68.624"/>
</clipPath>
<clipPath id="pe06227b2cf">
<rect x="421.56" y="206" width="181.04" height="171.56"/>
</clipPath>
<clipPath id="p7bc465cf39">
<rect x="430.612" y="214.578" width="72.416" height="68.624"/>
</clipPath>
<clipPath id="p9a1a445841">
<rect x="614.08" y="206" width="181.04" height="171.56"/>
</clipPath>
<clipPath id="p355d8f776f">
<rect x="623.132" y="214.578" width="72.416" height="68.624"/>
</clipPath>
</defs>
</svg>

</body>
</html>
